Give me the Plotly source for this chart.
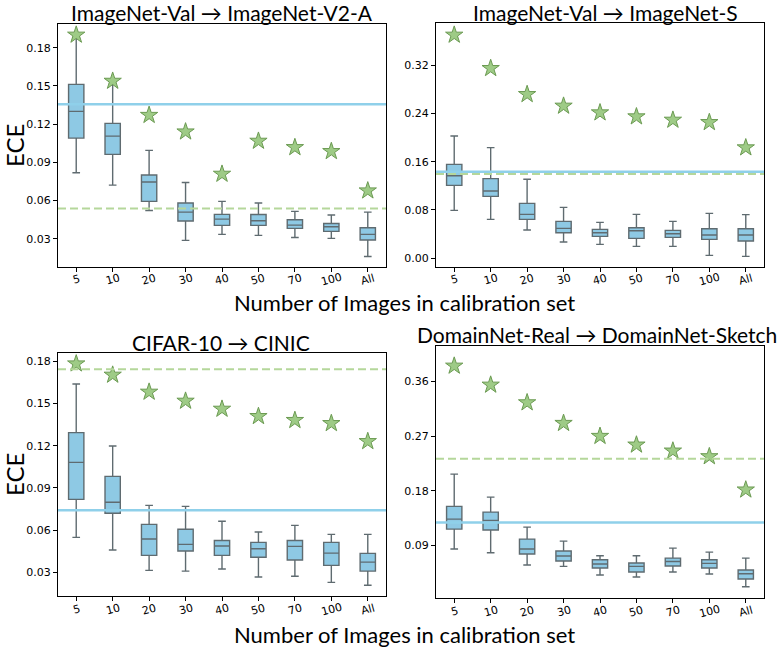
import plotly.graph_objects as go

W, H = 780, 647

categories = ["5", "10", "20", "30", "40", "50", "70", "100", "All"]

titles = [
    "ImageNet-Val \u2192 ImageNet-V2-A",
    "ImageNet-Val \u2192 ImageNet-S",
    "CIFAR-10 \u2192 CINIC",
    "DomainNet-Real \u2192 DomainNet-Sketch",
]

# Panel 1: ImageNet-Val -> ImageNet-V2-A
p1_low = [0.0818, 0.0721, 0.0522, 0.0287, 0.0334, 0.0326, 0.0310, 0.0303, 0.0161]
p1_q1 = [0.1090, 0.0962, 0.0593, 0.0439, 0.0405, 0.0405, 0.0381, 0.0358, 0.0290]
p1_med = [0.1300, 0.1106, 0.0745, 0.0509, 0.0454, 0.0441, 0.0407, 0.0394, 0.0334]
p1_q3 = [0.1512, 0.1206, 0.0800, 0.0580, 0.0491, 0.0490, 0.0449, 0.0420, 0.0386]
p1_high = [0.1880, 0.1520, 0.0994, 0.0742, 0.0593, 0.0580, 0.0515, 0.0486, 0.0509]
p1_star = [0.1900, 0.1538, 0.1270, 0.1140, 0.0808, 0.1067, 0.1017, 0.0986, 0.0677]
p1_blue = 0.1355
p1_green = 0.0538

# Panel 2: ImageNet-Val -> ImageNet-S
p2_low = [0.0792, 0.0642, 0.0465, 0.0266, 0.0227, 0.0194, 0.0194, 0.0044, 0.0028]
p2_q1 = [0.1207, 0.1024, 0.0642, 0.0421, 0.0360, 0.0327, 0.0343, 0.0310, 0.0282]
p2_med = [0.1367, 0.1113, 0.0725, 0.0493, 0.0421, 0.0454, 0.0404, 0.0382, 0.0382]
p2_q3 = [0.1556, 0.1318, 0.0908, 0.0609, 0.0476, 0.0504, 0.0459, 0.0487, 0.0487]
p2_high = [0.2026, 0.1833, 0.1307, 0.0842, 0.0592, 0.0725, 0.0609, 0.0742, 0.0720]
p2_star = [0.3704, 0.3150, 0.2718, 0.2525, 0.2414, 0.2348, 0.2292, 0.2253, 0.1833]
p2_blue = 0.1434
p2_green = 0.1395

# Panel 3: CIFAR-10 -> CINIC
p3_low = [0.0549, 0.0459, 0.0314, 0.0309, 0.0324, 0.0267, 0.0272, 0.0229, 0.0208]
p3_q1 = [0.0819, 0.0720, 0.0421, 0.0452, 0.0421, 0.0407, 0.0388, 0.0350, 0.0309]
p3_med = [0.1082, 0.0798, 0.0537, 0.0499, 0.0487, 0.0468, 0.0485, 0.0437, 0.0373]
p3_q3 = [0.1293, 0.0982, 0.0641, 0.0606, 0.0527, 0.0513, 0.0527, 0.0513, 0.0435]
p3_high = [0.1639, 0.1198, 0.0776, 0.0769, 0.0663, 0.0587, 0.0634, 0.0570, 0.0570]
p3_star = [0.1783, 0.1703, 0.1582, 0.1518, 0.1461, 0.1409, 0.1381, 0.1359, 0.1231]
p3_blue = 0.0741
p3_green = 0.1743

# Panel 4: DomainNet-Real -> DomainNet-Sketch
p4_low = [0.0839, 0.0778, 0.0575, 0.0554, 0.0411, 0.0378, 0.0460, 0.0427, 0.0218]
p4_q1 = [0.1168, 0.1152, 0.0757, 0.0641, 0.0526, 0.0460, 0.0559, 0.0526, 0.0345]
p4_med = [0.1333, 0.1311, 0.0839, 0.0724, 0.0592, 0.0553, 0.0635, 0.0603, 0.0433]
p4_q3 = [0.1542, 0.1448, 0.1003, 0.0806, 0.0663, 0.0608, 0.0690, 0.0663, 0.0493]
p4_high = [0.2074, 0.1695, 0.1201, 0.0970, 0.0729, 0.0729, 0.0855, 0.0789, 0.0690]
p4_star = [0.3858, 0.3545, 0.3254, 0.2914, 0.2700, 0.2557, 0.2458, 0.2365, 0.1816]
p4_blue = 0.1278
p4_green = 0.2326

y_ticks = [
    [0.03, 0.06, 0.09, 0.12, 0.15, 0.18],
    [0.00, 0.08, 0.16, 0.24, 0.32],
    [0.03, 0.06, 0.09, 0.12, 0.15, 0.18],
    [0.09, 0.18, 0.27, 0.36],
]
y_ranges = [[0.0078, 0.1986], [-0.0144, 0.3898], [0.0132, 0.1857], [0.0032, 0.4187]]

x_title = "Number of Images in calibration set"
y_title = "ECE"

panels = [
    (p1_low, p1_q1, p1_med, p1_q3, p1_high, p1_star, p1_blue, p1_green),
    (p2_low, p2_q1, p2_med, p2_q3, p2_high, p2_star, p2_blue, p2_green),
    (p3_low, p3_q1, p3_med, p3_q3, p3_high, p3_star, p3_blue, p3_green),
    (p4_low, p4_q1, p4_med, p4_q3, p4_high, p4_star, p4_blue, p4_green),
]

# pixel boxes of each axes: left, right, top, bottom
px_boxes = [(58, 386, 24, 267), (436, 764, 23.3, 266.7), (58, 386, 353.3, 596), (436, 764, 346, 598)]
title_px = [(222, 12), (605, 12), (221, 342), (597, 334)]
title_sizes = [21, 21, 21, 21]

BOX_FILL = "#8ec9e4"
BOX_LINE = "#5f6b70"
STAR_FILL = "#9ecb86"
STAR_LINE = "#6b9a52"
BLUE_LINE = "#8fd0ea"
GREEN_LINE = "#b5d79b"
TITLE_FONT = "Lato"
TICK_FONT = "DejaVu Sans"

fig = go.Figure()
annotations = []
shapes = []
layout_axes = {}

for i, (low, q1, med, q3, high, star, blue, green) in enumerate(panels):
    n = i + 1
    xa = "x" if n == 1 else f"x{n}"
    ya = "y" if n == 1 else f"y{n}"
    l, r, t, b = px_boxes[i]
    fig.add_trace(go.Box(
        x=categories, q1=q1, median=med, q3=q3, lowerfence=low, upperfence=high,
        xaxis=xa, yaxis=ya, fillcolor=BOX_FILL, line=dict(color=BOX_LINE, width=1.4),
        width=0.42, whiskerwidth=0.5, boxpoints=False, showlegend=False, hoverinfo="skip",
    ))
    fig.add_trace(go.Scatter(
        x=categories, y=star, xaxis=xa, yaxis=ya, mode="markers",
        marker=dict(symbol="star", size=13, color=STAR_FILL, line=dict(color=STAR_LINE, width=1)),
        showlegend=False, hoverinfo="skip",
    ))
    shapes.append(dict(type="line", xref=f"{xa} domain", yref=ya, x0=0, x1=1, y0=blue, y1=blue,
                       line=dict(color=BLUE_LINE, width=2.5), layer="above"))
    shapes.append(dict(type="line", xref=f"{xa} domain", yref=ya, x0=0, x1=1, y0=green, y1=green,
                       line=dict(color=GREEN_LINE, width=2, dash="8px,4px"), layer="above"))
    axkey = "xaxis" if n == 1 else f"xaxis{n}"
    aykey = "yaxis" if n == 1 else f"yaxis{n}"
    layout_axes[axkey] = dict(
        domain=[l / W, r / W], anchor=ya, type="category", range=[-0.5, len(categories) - 0.5],
        showline=True, linecolor="black", linewidth=1, mirror=True, ticks="outside", ticklen=4,
        tickcolor="black", showticklabels=False, showgrid=False, zeroline=False,
    )
    layout_axes[aykey] = dict(
        domain=[1 - b / H, 1 - t / H], anchor=xa, range=y_ranges[i], tickvals=y_ticks[i],
        ticktext=[f"{v:.2f}" for v in y_ticks[i]],
        showline=True, linecolor="black", linewidth=1, mirror=True, ticks="outside", ticklen=4,
        tickcolor="black", showgrid=False, zeroline=False,
        tickfont=dict(family=TICK_FONT, size=11, color="black"),
    )
    # rotated category labels (positioned by category index on the category axis)
    for k, c in enumerate(categories):
        annotations.append(dict(
            x=k, xref=xa, y=1 - (b + 13) / H, yref="paper", text=c, showarrow=False,
            textangle=-15, xanchor="center", yanchor="middle",
            font=dict(family=TICK_FONT, size=11, color="black"),
        ))
    tx, ty = title_px[i]
    annotations.append(dict(
        x=tx / W, y=1 - ty / H, xref="paper", yref="paper", text=titles[i], showarrow=False,
        xanchor="center", yanchor="middle",
        font=dict(family=TITLE_FONT, size=title_sizes[i], color="black"),
    ))

# shared axis titles
for yy in [303, 634]:
    annotations.append(dict(
        x=404 / W, y=1 - yy / H, xref="paper", yref="paper", text=x_title, showarrow=False,
        xanchor="center", yanchor="middle", font=dict(family=TITLE_FONT, size=22, color="black"),
    ))
for yy in [145, 474]:
    annotations.append(dict(
        x=14 / W, y=1 - yy / H, xref="paper", yref="paper", text=y_title, showarrow=False,
        textangle=-90, xanchor="center", yanchor="middle", borderpad=0,
        font=dict(family=TITLE_FONT, size=24, color="black"),
    ))

fig.update_layout(
    width=W, height=H, margin=dict(l=0, r=0, t=0, b=0),
    paper_bgcolor="white", plot_bgcolor="white",
    annotations=annotations, shapes=shapes, **layout_axes,
)

fig.write_html(
    "out.html",
    config={"displayModeBar": False},
    post_script="document.body.style.margin='0';document.body.style.padding='0';",
)
